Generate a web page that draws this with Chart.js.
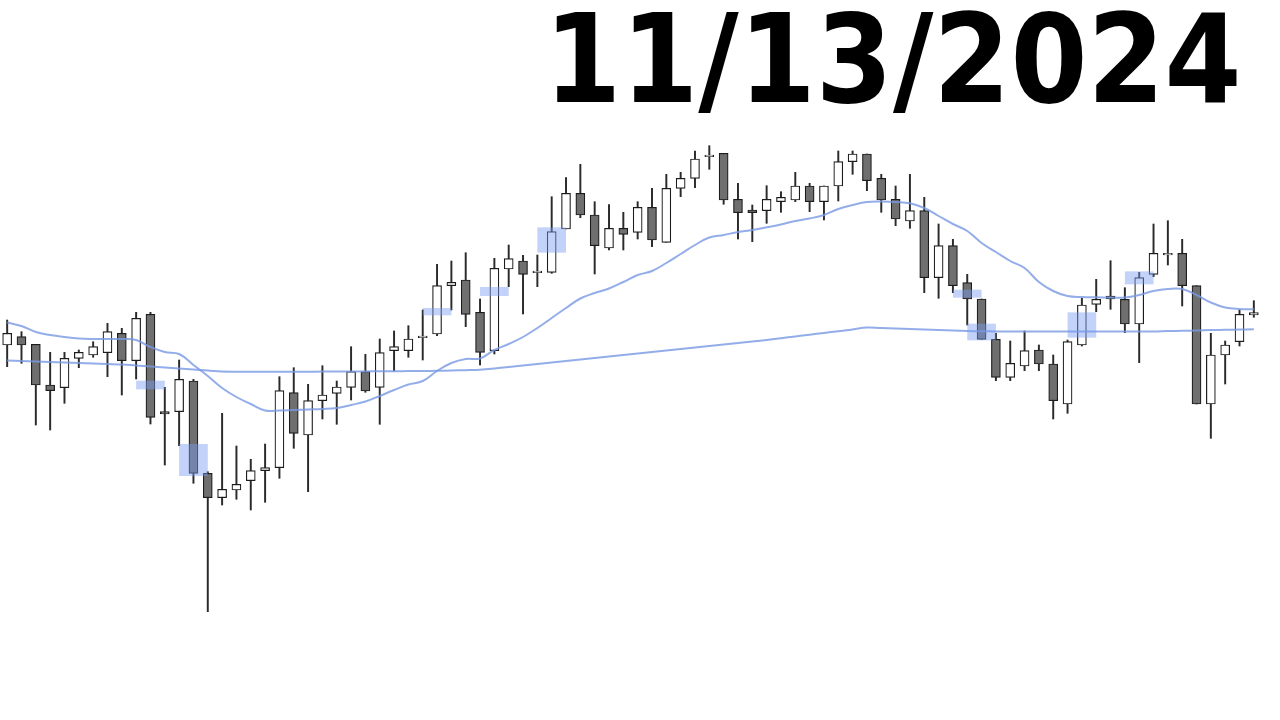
<!DOCTYPE html>
<html>
<head>
<meta charset="utf-8">
<title>11/13/2024</title>
<script src="https://cdn.jsdelivr.net/npm/chart.js@4.4.1/dist/chart.umd.min.js"></script>
<style>
  html, body { margin: 0; padding: 0; background: #ffffff; }
  #wrap { position: relative; width: 1280px; height: 720px; }
</style>
</head>
<body>
<div id="wrap"><canvas id="candleChart"></canvas></div>
<script>
const dateLabel = '11/13/2024';

// one entry per session, prices in chart units
const opens = [355, 363.3, 355.7, 315, 312.3, 341.7, 345, 347.3, 366.7, 339.3,
  385.7, 288.3, 288.3, 319, 226.7, 202.3, 210, 219.3, 229.3, 232.3,
  307.3, 265, 299.3, 306.7, 312.7, 328.3, 312.7, 349.3, 349.3, 362.3,
  366, 414.3, 420, 387.7, 349.3, 431, 439, 427.3, 427.7, 471,
  506.7, 485, 452, 471.7, 467.7, 492.7, 457.7, 511.7, 521.7, 543.3,
  546.7, 500.7, 490, 489.3, 498.3, 500, 514, 498.3, 514, 538.3,
  546, 521.7, 500.7, 479, 489.3, 422.3, 454.3, 417.3, 401, 360.7,
  322.7, 334, 350, 336, 296, 355, 395.7, 404, 400.7, 376,
  425.7, 445, 446.7, 414.3, 296, 345, 358.3, 385];
const closes = [366.7, 355, 315, 309.3, 341.7, 347.7, 353.3, 368.3, 339.3, 381.7,
  282.7, 286, 320.7, 226.7, 202.3, 210.7, 215.7, 229.3, 232.3, 309.3,
  266.7, 299.3, 305, 313, 328.3, 309, 347.3, 353.3, 361, 363.8,
  414.3, 417.7, 385.7, 347.7, 431.7, 441.3, 425.7, 428.8, 468.3, 506.7,
  485, 454.3, 471.7, 465.7, 492.7, 460, 511.7, 521.7, 541, 544.8,
  500, 487.3, 487.3, 500.7, 502.7, 514, 498.3, 514, 538.3, 546,
  519.3, 500, 481, 489.3, 422.3, 454.3, 414.3, 401, 360.7, 322.7,
  336.7, 349.3, 336, 299.3, 358.3, 395, 400.7, 401, 376, 422.3,
  446.7, 446.7, 414.3, 296, 345, 355, 385.7, 387.3];
const highs = [380, 368.3, 355.7, 347.7, 347.7, 350, 358.3, 376.7, 371.7, 387.7,
  387.7, 312.7, 340, 320.7, 228.3, 286.7, 254, 240.7, 256, 323.3,
  332.3, 315.7, 334.3, 319, 353.3, 345.7, 361, 369, 374.3, 390,
  435.7, 439, 447.3, 401, 441.7, 455, 444.7, 445, 503.3, 522.3,
  535.7, 498.3, 495.3, 487.7, 498.3, 511.7, 525.7, 527.7, 549, 554.3,
  546.7, 516.7, 495, 514.3, 508.3, 527.7, 516.7, 514, 549, 549,
  546, 525.7, 514, 525.7, 502.7, 476, 460.7, 425.7, 401, 366.7,
  359, 369, 355, 345, 360, 401.7, 420.7, 439.3, 412.3, 427.7,
  476, 479.3, 460.7, 414.3, 366.7, 359, 390, 399.3];
const lows = [333.3, 336.7, 275, 270, 296.7, 332.3, 342.7, 323.3, 305, 321,
  276, 235, 254.3, 216.7, 88.3, 195, 200.7, 190, 197.7, 221.7,
  251.7, 208.3, 281, 275.7, 300, 307.7, 275.7, 329, 342.7, 340,
  364.3, 390, 373.3, 335, 346, 413.3, 386, 413.3, 426.7, 471,
  482.3, 426, 450, 450, 461, 453.3, 457.7, 503.3, 512.3, 530.7,
  495.7, 461, 458.3, 476.7, 487.7, 498.3, 488.3, 480, 499, 525.7,
  509.3, 487.7, 474.3, 471.7, 407.3, 401.7, 407.3, 375, 360.7, 319.3,
  319.3, 329.3, 329.3, 281, 286.7, 354, 388.3, 390.7, 367.3, 337.3,
  423.3, 435, 394, 296, 261.7, 316, 354, 382.7];

// moving averages
const maFast = [377.5, 374, 368, 365, 363, 361.5, 361, 361, 361, 360,
  353, 348, 346, 335, 324, 312, 303, 296, 289.5, 289.5,
  290, 290.5, 291, 292, 295, 298.5, 304, 310, 315.5, 319,
  329, 337, 341, 341.5, 350, 356, 363, 372, 382, 392,
  401.5, 407, 411.5, 418, 425, 429, 437, 446, 455, 462.5,
  465, 468, 470, 472.7, 475.5, 479, 481.5, 485, 491, 495,
  498, 498.5, 498, 496.7, 492, 484, 476, 469, 457, 448,
  439, 432, 418, 409, 404, 403, 402.7, 402.5, 402.5, 405,
  409, 411, 411, 405, 397.5, 392.5, 391, 390.7];
const maSlow = [339.5, 339, 338.5, 338, 337.5, 337, 336.5, 336, 335.5, 334.5,
  333.5, 332.5, 331.5, 330.5, 329.5, 328.5, 328.3, 328.2, 328.2, 328.2,
  328.3, 328.3, 328.4, 328.5, 328.5, 328.6, 328.7, 328.8, 328.9, 329,
  329.2, 329.5, 329.8, 330.3, 331.5, 333, 334.5, 336, 337.5, 339,
  340.5, 342, 343.5, 345, 346.5, 348, 349.5, 351, 352.5, 354,
  355.5, 357, 358.5, 360, 361.8, 363.5, 365.3, 367, 368.8, 370.5,
  372.5, 372, 371.5, 371, 370.5, 370, 369.5, 369, 368.7, 368.6,
  368.5, 368.5, 368.5, 368.5, 368.5, 368.5, 368.5, 368.5, 368.5, 368.5,
  368.5, 369, 369.2, 369.5, 370, 370.2, 370.5, 370.7];

// highlighted gap zones: middle session of each 3-bar gap
const gapIndex = [10, 13, 30, 34, 38, 67, 68, 75, 79];
const gapLow = [311, 224.3, 385, 404.3, 447.7, 402.7, 360, 362.7, 416];
const gapHigh = [319, 255.7, 391.7, 412.7, 472.3, 410, 376, 387.3, 428.3];

const sessions = opens.map((_, i) => String(i + 1));

const bodies = opens.map((o, i) => [o, closes[i]]);
const wicks = lows.map((l, i) => [l, highs[i]]);
const gaps = sessions.map(() => null);
gapIndex.forEach((idx, k) => { gaps[idx] = [gapLow[k], gapHigh[k]]; });
const bodyFill = opens.map((o, i) => closes[i] >= o ? '#ffffff' : '#6f6f6f');

// big date in the top right, fitted to the ink box of the original
const dateTitle = {
    id: 'dateTitle',
    afterDraw(chart) {
        const c = chart.ctx;
        c.save();
        c.font = 'bold 125px "DejaVu Sans"';
        const zero = c.measureText('0');
        const size = 125 * 91 / zero.actualBoundingBoxAscent;
        c.font = 'bold ' + size.toFixed(1) + 'px "DejaVu Sans"';
        c.textAlign = 'left';
        c.textBaseline = 'alphabetic';
        const m = c.measureText(dateLabel);
        const ink = m.actualBoundingBoxLeft + m.actualBoundingBoxRight;
        c.translate(556, 102);
        c.scale(681 / ink, 1);
        c.fillStyle = '#000000';
        c.fillText(dateLabel, m.actualBoundingBoxLeft, 0);
        c.restore();
    }
};

const ctx = document.getElementById('candleChart').getContext('2d');
new Chart(ctx, {
    type: 'bar',
    data: {
        labels: sessions,
        datasets: [
            {
                label: 'Gaps',
                data: gaps,
                backgroundColor: 'rgba(120, 156, 240, 0.45)',
                borderWidth: 0,
                barThickness: 28,
                grouped: false,
                order: 0
            },
            {
                type: 'line',
                label: 'Fast MA',
                data: maFast,
                borderColor: 'rgba(120, 152, 228, 0.8)',
                borderWidth: 2,
                pointRadius: 0,
                tension: 0.4,
                order: 1
            },
            {
                type: 'line',
                label: 'Slow MA',
                data: maSlow,
                borderColor: 'rgba(120, 152, 228, 0.8)',
                borderWidth: 2,
                pointRadius: 0,
                tension: 0.4,
                order: 1
            },
            {
                label: 'Body',
                data: bodies,
                backgroundColor: bodyFill,
                borderColor: '#1c1c1c',
                borderWidth: 1.2,
                borderSkipped: false,
                barThickness: 9,
                grouped: false,
                order: 2
            },
            {
                label: 'Wick',
                data: wicks,
                backgroundColor: '#2a2a2a',
                borderWidth: 0,
                barThickness: 1.3,
                grouped: false,
                order: 3
            }
        ]
    },
    options: {
        responsive: true,
        maintainAspectRatio: false,
        animation: false,
        layout: { padding: { left: 0, right: 19, top: 0, bottom: 0 } },
        scales: {
            x: { display: false },
            y: { display: false, min: -20, max: 700 }
        },
        plugins: {
            legend: { display: false },
            tooltip: { enabled: false }
        }
    },
    plugins: [dateTitle]
});
</script>
</body>
</html>
